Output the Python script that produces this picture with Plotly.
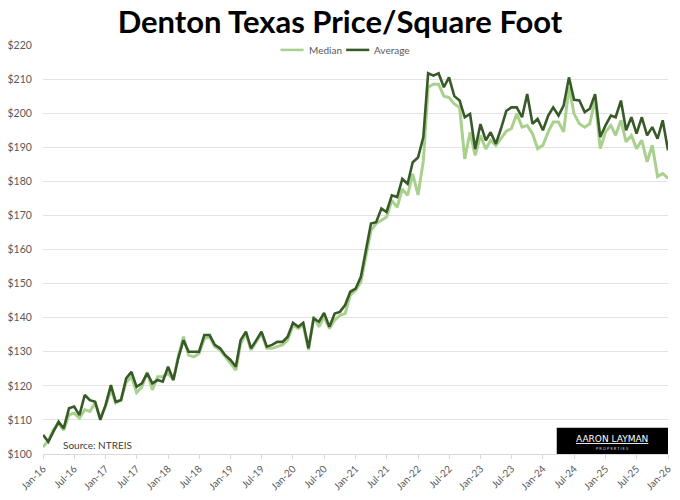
import pandas as pd
import plotly.graph_objects as go

start_month = "2016-01-01"
n_months = 121

median = [102, 104, 107, 109, 107, 111.5, 112, 110.5, 113, 112.5, 115, 110.5,
          114, 119, 115, 116, 121, 122.7, 118, 119.7, 124, 118.8, 122.7, 122.7,
          123.7, 121.7, 128.5, 134.4, 129, 128.5, 129.5, 133.9, 134.4, 131.5, 130.5, 128.5,
          126.6, 124.6, 132.4, 135.4, 130.5, 133, 135.4, 131, 131, 131.5, 132, 133.4,
          137.8, 136.8, 137.8, 130.5, 140.3, 137.3, 140.3, 136.8, 139.3, 140.7, 141.2, 146.6,
          148, 150.5, 158, 165.6, 167.6, 168.5, 169.5, 174.4, 172.4, 177.8, 175.9, 182.2,
          176, 186, 207.6, 208.5, 208.5, 205, 204.6, 202.7, 201.7, 186.6, 194.4, 187.6,
          193.4, 189.5, 192, 190.5, 192.7, 194.7, 195.5, 199.8, 195.9, 196.4, 194, 189.6,
          190.6, 194.5, 197.4, 197.4, 194.5, 207.6, 199.8, 196.9, 195.9, 196.9, 204.2, 189.6,
          194.5, 196.4, 193.5, 197.9, 191.6, 193.5, 189.6, 192, 185.7, 190.6, 181.4, 182.3,
          180.9]

average = [105.6, 103.6, 106.5, 109.5, 107.5, 113.4, 113.9, 111.4, 117.3, 115.8, 115.3, 110,
           114.4, 120.2, 115.3, 115.8, 122.2, 124.1, 119.7, 120.7, 123.7, 120.7, 121.7, 121.2,
           125.6, 121.7, 128, 133.4, 130, 130, 130, 134.9, 134.9, 132, 131, 129,
           127.6, 125.6, 133.4, 135.9, 131, 133.4, 135.9, 131.5, 132, 132.9, 132.9, 134.4,
           138.5, 137.3, 138.5, 131, 139.8, 138.8, 141.4, 137.3, 141.2, 141.7, 143.7, 147.6,
           148.5, 152, 160, 167.6, 168, 172, 171, 175.9, 175.4, 180.7, 179.3, 185.6,
           187, 193, 211.7, 211, 211.7, 207.6, 210.5, 205, 203.7, 198.8, 199.8, 189.5,
           196.8, 192, 194.4, 191, 195.5, 200.7, 201.7, 201.7, 198.8, 205.6, 196.9, 198.3,
           195, 199.3, 201.7, 199.3, 202.2, 210.5, 203.9, 203.7, 200.3, 201.3, 205.6, 193,
           196.4, 199.3, 198.8, 203.7, 195, 198.8, 194, 198.8, 193.5, 195.9, 192.5, 197.9,
           189.1]

series_names = ["Median", "Average"]
series_colors = ["#a9d18e", "#375a28"]

months = pd.date_range(start_month, periods=n_months, freq="MS")

fig = go.Figure()
for name, vals, col, w in zip(series_names, [median, average], series_colors, [3, 2.6]):
    fig.add_trace(go.Scatter(x=months, y=vals, name=name, mode="lines",
                             line=dict(color=col, width=w), showlegend=False))

fig.update_layout(
    width=680, height=500,
    margin=dict(l=43, r=12, t=45, b=46),
    paper_bgcolor="white", plot_bgcolor="white",
    font=dict(family="Lato, sans-serif", color="#595959"),
    title=dict(text="<b>Denton Texas Price/Square Foot</b>", x=0.5, xanchor="center",
               y=0.956, yanchor="middle",
               font=dict(family="Lato, sans-serif", size=31, color="black")),
    showlegend=False,
)
fig.update_xaxes(
    range=[months[0], months[-1]], tickformat="%b-%y", dtick="M6",
    tick0=start_month, tickangle=-45, tickfont=dict(size=10, color="#595959"),
    showgrid=False, showline=True, linecolor="#d9d9d9", linewidth=1,
    ticks="outside", ticklen=4, tickcolor="#d9d9d9", automargin=False,
)
fig.update_yaxes(
    range=[100, 220], dtick=10, tickprefix="$", tickfont=dict(size=10.5, color="#595959"),
    showgrid=True, gridcolor="#e3e3e3", gridwidth=1, zeroline=False,
    ticks="outside", ticklen=8, tickcolor="rgba(0,0,0,0)", automargin=False,
)

# custom legend (short line samples like the reference)
leg_y = 0.988
leg_items = [(0.380, series_names[0], series_colors[0]), (0.485, series_names[1], series_colors[1])]
for x0, name, col in leg_items:
    fig.add_shape(type="line", xref="paper", yref="paper", x0=x0, x1=x0 + 0.037,
                  y0=leg_y, y1=leg_y, line=dict(color=col, width=2.5))
    fig.add_annotation(text=name, xref="paper", yref="paper", x=x0 + 0.042, y=leg_y,
                       xanchor="left", yanchor="middle", showarrow=False,
                       font=dict(size=10, color="#595959"))

fig.add_annotation(text="Source: NTREIS", xref="paper", yref="paper",
                   x=0.028, y=0.003, xanchor="left", yanchor="bottom", showarrow=False,
                   font=dict(size=10, color="#404040"))
fig.add_shape(type="rect", xref="paper", yref="paper", x0=0.822, x1=1.0, y0=0.0, y1=0.064,
              fillcolor="black", line=dict(width=0))
fig.add_annotation(text="<u>AARON LAYMAN</u>", xref="paper", yref="paper",
                   x=0.911, y=0.036, xanchor="center", yanchor="middle", showarrow=False,
                   font=dict(size=9, color="white", family="DejaVu Sans"))
fig.add_annotation(text="P R O P E R T I E S", xref="paper", yref="paper",
                   x=0.911, y=0.013, xanchor="center", yanchor="middle", showarrow=False,
                   font=dict(size=4, color="#cccccc"))

fig.write_html("out.html")
